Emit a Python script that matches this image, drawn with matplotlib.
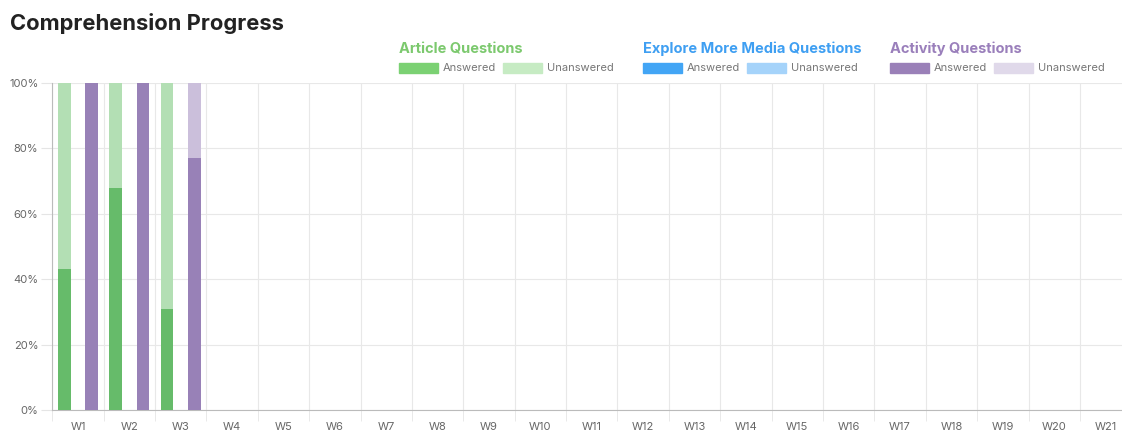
import numpy as np
import matplotlib
matplotlib.use("Agg")
import matplotlib.pyplot as plt
from matplotlib.patches import Rectangle

# -------------------------
# DATA
# -------------------------
weeks = [f"W{i}" for i in range(1, 22)]
article_answered = [43, 68, 31]
explore_answered = []
activity_answered = [100, 100, 77]

plt.rcParams["font.family"] = ["Inter", "DejaVu Sans"]

# colours
green_dark, green_light = "#66bb6a", "#b3dfb4"
blue_dark, blue_light = "#42a5f5", "#a5d3fa"
purple_dark, purple_light = "#9881b7", "#cbbfdb"

fig = plt.figure(figsize=(11.22, 4.42), dpi=100)
# plot area runs a little past the right edge, like the original
ax = fig.add_axes([52.3 / 1122, 1 - 410 / 442, 1079 / 1122, 327 / 442])

x = np.arange(len(weeks))
w = 0.245
off = 0.265

def stacked(vals, pos, dark, light):
    n = len(vals)
    vals = np.array(vals, dtype=float)
    ax.bar(x[:n] + pos, vals, width=w, color=dark, zorder=3)
    ax.bar(x[:n] + pos, 100 - vals, bottom=vals, width=w, color=light, zorder=3)

stacked(article_answered, -off, green_dark, green_light)
stacked(explore_answered, 0, blue_dark, blue_light)
stacked(activity_answered, off, purple_dark, purple_light)

ax.set_xlim(-0.5, len(weeks) - 0.5)
ax.set_ylim(0, 100)
ax.set_yticks(range(0, 101, 20))
ax.set_yticklabels([f"{v}%" for v in range(0, 101, 20)])
ax.set_xticks(x)
ax.set_xticklabels(weeks)
ax.set_xticks(np.arange(-0.5, len(weeks)), minor=True)

ax.tick_params(axis="x", which="major", length=0, pad=9, labelsize=8, colors="#666666")
ax.tick_params(axis="x", which="minor", length=8, color="#e5e5e5")
ax.tick_params(axis="y", length=8, color="#e5e5e5", pad=2, labelsize=8, labelcolor="#666666")
ax.grid(axis="y", color="#e8e8e8", linewidth=0.8, zorder=0)
ax.grid(axis="x", which="minor", color="#e8e8e8", linewidth=0.8, zorder=0)

for s in ["top", "right"]:
    ax.spines[s].set_visible(False)
for s in ["left", "bottom"]:
    ax.spines[s].set_color("#bbbbbb")
    ax.spines[s].set_linewidth(0.8)

# -------------------------
# TITLE
# -------------------------
fig.text(10 / 1122, 1 - 23 / 442, "Comprehension Progress", fontsize=15.8,
         fontweight="bold", color="#222222", va="center", ha="left")

# -------------------------
# LEGEND
# -------------------------
groups = [
    ("Article Questions", 399, "#7bd173", "#c6ebc3", "#7cc96e"),
    ("Explore More Media Questions", 643, "#42a5f5", "#a5d3fa", "#3f9ff2"),
    ("Activity Questions", 890, "#9a80b8", "#e0d9ea", "#9a7fbb"),
]
for title, x0, c1, c2, tc in groups:
    fig.text(x0 / 1122, 1 - 49 / 442, title, fontsize=10.5, fontweight="bold",
             color=tc, va="center", ha="left")
    for dx, col, lab in [(0, c1, "Answered"), (104, c2, "Unanswered")]:
        fig.patches.append(Rectangle(((x0 + dx) / 1122, 1 - 73 / 442), 39 / 1122, 10 / 442,
                                     transform=fig.transFigure, color=col))
        fig.text((x0 + dx + 44) / 1122, 1 - 68 / 442, lab, fontsize=8,
                 color="#777777", va="center", ha="left")

fig.savefig("out.png", dpi=100)
